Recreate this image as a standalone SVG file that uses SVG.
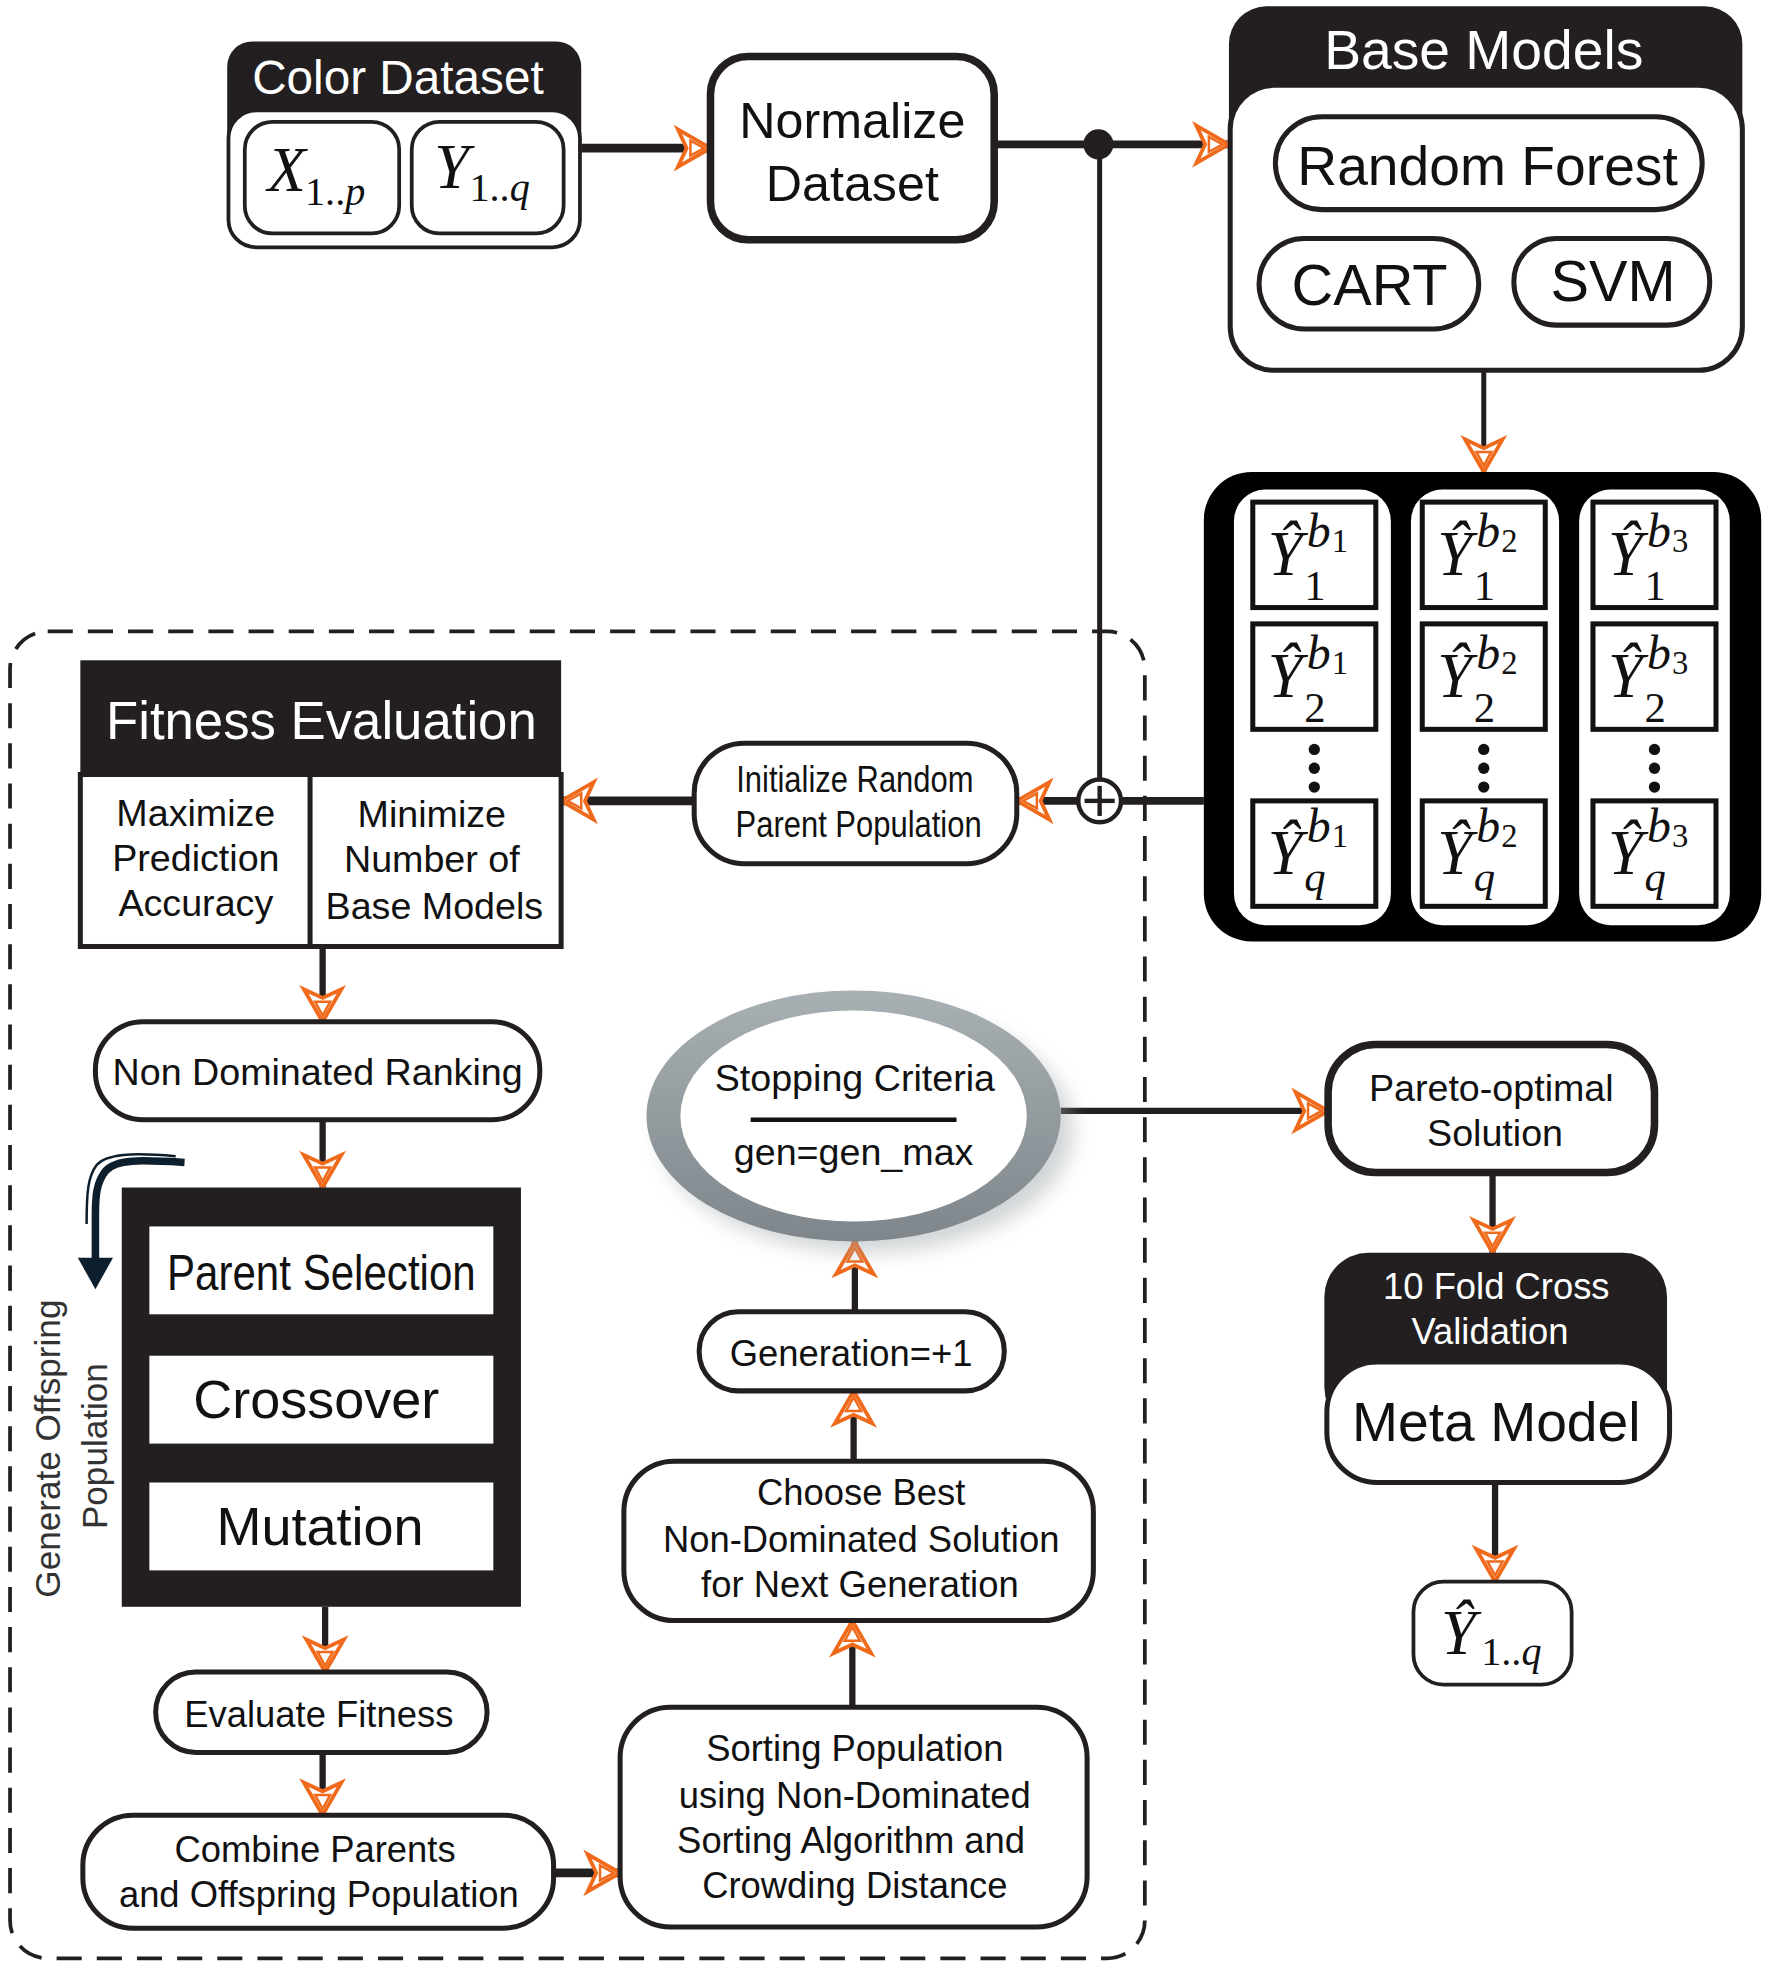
<svg xmlns="http://www.w3.org/2000/svg" width="1770" height="1973" viewBox="0 0 1770 1973">
<defs>
<style>
.t{font-family:"Liberation Sans",Arial,sans-serif;fill:#111;text-anchor:middle}
.w{fill:#fff}
.m{font-family:"Liberation Serif","Times New Roman",serif;fill:#111}
.i{font-style:italic}
.box{fill:#fff;stroke:#231f20;stroke-width:4}
.cell{fill:#fff;stroke:#111;stroke-width:4}
.ln{stroke:#231f20;fill:none}
</style>
<marker id="ah" markerUnits="userSpaceOnUse" markerWidth="34" markerHeight="40" viewBox="-30 -20 34 40" refX="0" refY="0" orient="auto" overflow="visible">
<path d="M0,0 L-26,-15 L-19,0 L-26,15 Z" fill="#fff" stroke="#f06a1c" stroke-width="3" stroke-linejoin="miter"/>
<path d="M-5,0 L-16,-6 L-16,6 Z" fill="#fff" stroke="#f06a1c" stroke-width="2"/>
</marker>
<linearGradient id="ring" x1="0" y1="0" x2="0" y2="1">
<stop offset="0" stop-color="#a9b0b4"/>
<stop offset="1" stop-color="#7e868b"/>
</linearGradient>
<filter id="sh" x="-30%" y="-30%" width="160%" height="160%">
<feGaussianBlur stdDeviation="8"/>
</filter>
</defs>
<rect width="1770" height="1973" fill="#fff"/>
<g transform="scale(1.2553)">

<!-- dashed region -->
<rect x="8" y="503" width="904" height="1057" rx="30" fill="none" stroke="#231f20" stroke-width="3" stroke-dasharray="20 12"/>

<!-- connectors -->
<g id="connectors" class="ln">
<line x1="463" y1="118" x2="566" y2="118" stroke-width="7" marker-end="url(#ah)"/>
<line x1="792" y1="115" x2="979" y2="115" stroke-width="6" marker-end="url(#ah)"/>
<circle cx="875" cy="115" r="12" fill="#231f20" stroke="none"/>
<line x1="876" y1="115" x2="876" y2="622" stroke-width="4"/>
<line x1="1182" y1="295" x2="1182" y2="376" stroke-width="4" marker-end="url(#ah)"/>
<line x1="959" y1="638" x2="894" y2="638" stroke-width="6"/>
<line x1="858" y1="638" x2="810" y2="638" stroke-width="6" marker-end="url(#ah)"/>
<line x1="553" y1="638" x2="447" y2="638" stroke-width="7" marker-end="url(#ah)"/>
<line x1="257" y1="754" x2="257" y2="814" stroke-width="5" marker-end="url(#ah)"/>
<line x1="257" y1="892" x2="257" y2="946" stroke-width="5" marker-end="url(#ah)"/>
<line x1="259" y1="1280" x2="259" y2="1332" stroke-width="5" marker-end="url(#ah)"/>
<line x1="257" y1="1396" x2="257" y2="1446" stroke-width="5" marker-end="url(#ah)"/>
<line x1="441" y1="1492" x2="494" y2="1492" stroke-width="7" marker-end="url(#ah)"/>
<line x1="679" y1="1360" x2="679" y2="1291" stroke-width="5" marker-end="url(#ah)"/>
<line x1="680" y1="1164" x2="680" y2="1108" stroke-width="5" marker-end="url(#ah)"/>
<line x1="681" y1="1045" x2="681" y2="989" stroke-width="5" marker-end="url(#ah)"/>
<line x1="845" y1="885" x2="1058" y2="885" stroke-width="5" marker-end="url(#ah)"/>
<line x1="1189" y1="934" x2="1189" y2="998" stroke-width="5" marker-end="url(#ah)"/>
<line x1="1191" y1="1181" x2="1191" y2="1260" stroke-width="5" marker-end="url(#ah)"/>
</g>

<!-- plus junction -->
<g id="sum">
<circle cx="876" cy="638" r="17" fill="#fff" stroke="#231f20" stroke-width="3.5"/>
<line x1="864" y1="638" x2="888" y2="638" stroke="#231f20" stroke-width="3.5"/>
<line x1="876" y1="626" x2="876" y2="650" stroke="#231f20" stroke-width="3.5"/>
</g>

<!-- Color Dataset -->
<g id="color-dataset">
<rect x="181" y="33" width="282" height="110" rx="20" fill="#231f20"/>
<rect x="182" y="88" width="280" height="109" rx="22" fill="#fff" stroke="#231f20" stroke-width="3"/>
<text class="t w" x="317" y="75" font-size="38">Color Dataset</text>
<rect x="195" y="97" width="123" height="89" rx="22" fill="#fff" stroke="#231f20" stroke-width="3"/>
<rect x="328" y="97" width="121" height="89" rx="22" fill="#fff" stroke="#231f20" stroke-width="3"/>
<text class="m"><tspan class="i" x="213" y="152" font-size="50">X</tspan><tspan x="243" y="163" font-size="32">1..</tspan><tspan class="i" font-size="32">p</tspan></text>
<text class="m"><tspan class="i" x="346" y="150" font-size="50">Y</tspan><tspan x="374" y="160" font-size="32">1..</tspan><tspan class="i" font-size="32">q</tspan></text>
</g>

<!-- Normalize -->
<g id="normalize">
<rect x="566" y="45" width="226" height="146" rx="30" fill="#fff" stroke="#231f20" stroke-width="6"/>
<text class="t" x="679" y="110" font-size="40">Normalize</text>
<text class="t" x="679" y="160" font-size="40">Dataset</text>
</g>

<!-- Base Models -->
<g id="base-models">
<rect x="979" y="5" width="409" height="140" rx="30" fill="#231f20"/>
<rect x="980" y="68" width="408" height="227" rx="35" class="box"/>
<text class="t w" x="1182" y="55" font-size="44">Base Models</text>
<rect x="1016" y="93" width="340" height="74" rx="37" class="box"/>
<text class="t" x="1185" y="147" font-size="44">Random Forest</text>
<rect x="1003" y="190" width="175" height="72" rx="36" class="box"/>
<text class="t" x="1091" y="243" font-size="46">CART</text>
<rect x="1206" y="190" width="156" height="69" rx="34" class="box"/>
<text class="t" x="1285" y="240" font-size="46">SVM</text>
</g>

<!-- Predictions -->
<g id="predictions">
<rect x="959" y="376" width="444" height="374" rx="38" fill="#000"/>
<rect x="983" y="390" width="125" height="347" rx="25" fill="#fff"/>
<rect x="1124" y="390" width="118" height="347" rx="25" fill="#fff"/>
<rect x="1258" y="390" width="120" height="347" rx="25" fill="#fff"/>

<rect class="cell" x="998" y="400" width="98" height="84"/>
<rect class="cell" x="998" y="497" width="98" height="84"/>
<rect class="cell" x="998" y="638" width="98" height="84"/>
<rect class="cell" x="1133" y="400" width="98" height="84"/>
<rect class="cell" x="1133" y="497" width="98" height="84"/>
<rect class="cell" x="1133" y="638" width="98" height="84"/>
<rect class="cell" x="1269" y="400" width="98" height="84"/>
<rect class="cell" x="1269" y="497" width="98" height="84"/>
<rect class="cell" x="1269" y="638" width="98" height="84"/>

<g fill="#111">
<circle cx="1047" cy="597" r="4.5"/><circle cx="1047" cy="612" r="4.5"/><circle cx="1047" cy="627" r="4.5"/>
<circle cx="1182" cy="597" r="4.5"/><circle cx="1182" cy="612" r="4.5"/><circle cx="1182" cy="627" r="4.5"/>
<circle cx="1318" cy="597" r="4.5"/><circle cx="1318" cy="612" r="4.5"/><circle cx="1318" cy="627" r="4.5"/>
</g>

<!-- col1 -->
<text class="m"><tspan class="i" x="1010" y="458" font-size="50">Ŷ</tspan><tspan class="i" x="1041" y="436" font-size="38">b</tspan><tspan x="1061" y="440" font-size="26">1</tspan><tspan x="1039" y="478" font-size="34">1</tspan></text>
<text class="m"><tspan class="i" x="1010" y="555" font-size="50">Ŷ</tspan><tspan class="i" x="1041" y="533" font-size="38">b</tspan><tspan x="1061" y="537" font-size="26">1</tspan><tspan x="1039" y="575" font-size="34">2</tspan></text>
<text class="m"><tspan class="i" x="1010" y="696" font-size="50">Ŷ</tspan><tspan class="i" x="1041" y="671" font-size="38">b</tspan><tspan x="1061" y="675" font-size="26">1</tspan><tspan class="i" x="1039" y="710" font-size="34">q</tspan></text>

<!-- col2 -->
<text class="m"><tspan class="i" x="1145" y="458" font-size="50">Ŷ</tspan><tspan class="i" x="1176" y="436" font-size="38">b</tspan><tspan x="1196" y="440" font-size="26">2</tspan><tspan x="1174" y="478" font-size="34">1</tspan></text>
<text class="m"><tspan class="i" x="1145" y="555" font-size="50">Ŷ</tspan><tspan class="i" x="1176" y="533" font-size="38">b</tspan><tspan x="1196" y="537" font-size="26">2</tspan><tspan x="1174" y="575" font-size="34">2</tspan></text>
<text class="m"><tspan class="i" x="1145" y="696" font-size="50">Ŷ</tspan><tspan class="i" x="1176" y="671" font-size="38">b</tspan><tspan x="1196" y="675" font-size="26">2</tspan><tspan class="i" x="1174" y="710" font-size="34">q</tspan></text>

<!-- col3 -->
<text class="m"><tspan class="i" x="1281" y="458" font-size="50">Ŷ</tspan><tspan class="i" x="1312" y="436" font-size="38">b</tspan><tspan x="1332" y="440" font-size="26">3</tspan><tspan x="1310" y="478" font-size="34">1</tspan></text>
<text class="m"><tspan class="i" x="1281" y="555" font-size="50">Ŷ</tspan><tspan class="i" x="1312" y="533" font-size="38">b</tspan><tspan x="1332" y="537" font-size="26">3</tspan><tspan x="1310" y="575" font-size="34">2</tspan></text>
<text class="m"><tspan class="i" x="1281" y="696" font-size="50">Ŷ</tspan><tspan class="i" x="1312" y="671" font-size="38">b</tspan><tspan x="1332" y="675" font-size="26">3</tspan><tspan class="i" x="1310" y="710" font-size="34">q</tspan></text>
</g>

<!-- Initialize -->
<g id="initialize">
<rect x="553" y="592" width="257" height="96" rx="40" class="box"/>
<text class="t" x="681" y="631" font-size="29" textLength="189" lengthAdjust="spacingAndGlyphs">Initialize Random</text>
<text class="t" x="684" y="667" font-size="29" textLength="196" lengthAdjust="spacingAndGlyphs">Parent Population</text>
</g>

<!-- Fitness Evaluation -->
<g id="fitness">
<rect x="64" y="526" width="383" height="92" fill="#231f20"/>
<rect x="64" y="617" width="383" height="137" fill="#fff" stroke="#231f20" stroke-width="4"/>
<line x1="247" y1="617" x2="247" y2="754" stroke="#231f20" stroke-width="4"/>
<text class="t w" x="256" y="589" font-size="42">Fitness Evaluation</text>
<text class="t" x="156" y="658" font-size="30">Maximize</text>
<text class="t" x="156" y="694" font-size="30">Prediction</text>
<text class="t" x="156" y="730" font-size="30">Accuracy</text>
<text class="t" x="344" y="659" font-size="30">Minimize</text>
<text class="t" x="344" y="695" font-size="30">Number of</text>
<text class="t" x="346" y="732" font-size="30">Base Models</text>
</g>

<!-- Non Dominated Ranking -->
<g id="ndr">
<rect x="76" y="814" width="354" height="78" rx="38" class="box"/>
<text class="t" x="253" y="864" font-size="30">Non Dominated Ranking</text>
</g>

<!-- GA operators -->
<g id="ga">
<rect x="97" y="946" width="318" height="334" fill="#231f20"/>
<rect x="119" y="977" width="274" height="70" fill="#fff"/>
<rect x="119" y="1080" width="274" height="70" fill="#fff"/>
<rect x="119" y="1181" width="274" height="70" fill="#fff"/>
<text class="t" x="256" y="1028" font-size="40" textLength="246" lengthAdjust="spacingAndGlyphs">Parent Selection</text>
<text class="t" x="252" y="1130" font-size="43">Crossover</text>
<text class="t" x="255" y="1231" font-size="43">Mutation</text>
</g>

<!-- Generate Offspring label -->
<g id="offspring-label">
<path d="M147,926 C112,924 92,923 84,933 C77,942 76,952 76,968 L76,1004" fill="none" stroke="#0d1f2d" stroke-width="6"/>
<path d="M140,921 C105,918 85,919 77,928 C70,937 69,950 69,975" fill="none" stroke="#0d1f2d" stroke-width="2"/>
<polygon points="62,1002 90,1002 76,1027" fill="#0d1f2d"/>
<text class="t" font-size="28" transform="translate(48,1154) rotate(-90)" style="fill:#333">Generate Offspring</text>
<text class="t" font-size="28" transform="translate(85,1152) rotate(-90)" style="fill:#333">Population</text>
</g>

<!-- Evaluate Fitness -->
<g id="evaluate">
<rect x="124" y="1332" width="264" height="64" rx="32" class="box"/>
<text class="t" x="254" y="1376" font-size="29">Evaluate Fitness</text>
</g>

<!-- Combine -->
<g id="combine">
<rect x="66" y="1446" width="375" height="90" rx="40" class="box"/>
<text class="t" x="251" y="1483" font-size="29">Combine Parents</text>
<text class="t" x="254" y="1519" font-size="29">and Offspring Population</text>
</g>

<!-- Sorting -->
<g id="sorting">
<rect x="494" y="1360" width="372" height="175" rx="40" class="box"/>
<text class="t" x="681" y="1403" font-size="29">Sorting Population</text>
<text class="t" x="681" y="1440" font-size="29">using Non-Dominated</text>
<text class="t" x="678" y="1476" font-size="29">Sorting Algorithm and</text>
<text class="t" x="681" y="1512" font-size="29">Crowding Distance</text>
</g>

<!-- Choose Best -->
<g id="choose">
<rect x="497" y="1164" width="374" height="127" rx="40" class="box"/>
<text class="t" x="686" y="1199" font-size="29">Choose Best</text>
<text class="t" x="686" y="1236" font-size="29">Non-Dominated Solution</text>
<text class="t" x="685" y="1272" font-size="29">for Next Generation</text>
</g>

<!-- Generation -->
<g id="generation">
<rect x="557" y="1045" width="243" height="63" rx="31" class="box"/>
<text class="t" x="678" y="1088" font-size="29">Generation=+1</text>
</g>

<!-- Stopping Criteria -->
<g id="stopping">
<ellipse cx="690" cy="900" rx="165" ry="98" fill="#9aa0a4" opacity="0.45" filter="url(#sh)"/>
<ellipse cx="680" cy="889" rx="165" ry="100" fill="url(#ring)"/>
<ellipse cx="680" cy="889" rx="138" ry="84" fill="#fff"/>
<text class="t" x="681" y="869" font-size="30">Stopping Criteria</text>
<line x1="598" y1="892" x2="762" y2="892" stroke="#111" stroke-width="3.5"/>
<text class="t" x="680" y="928" font-size="30">gen=gen_max</text>
</g>

<!-- Pareto -->
<g id="pareto">
<rect x="1058" y="832" width="260" height="102" rx="38" fill="#fff" stroke="#231f20" stroke-width="6"/>
<text class="t" x="1188" y="877" font-size="30">Pareto-optimal</text>
<text class="t" x="1191" y="913" font-size="30">Solution</text>
</g>

<!-- Meta Model -->
<g id="meta">
<rect x="1055" y="998" width="273" height="142" rx="35" fill="#231f20"/>
<rect x="1057" y="1085" width="273" height="96" rx="40" class="box"/>
<text class="t w" x="1192" y="1035" font-size="29">10 Fold Cross</text>
<text class="t w" x="1187" y="1071" font-size="29">Validation</text>
<text class="t" x="1192" y="1148" font-size="44">Meta Model</text>
</g>

<!-- Output -->
<g id="output">
<rect x="1126" y="1260" width="126" height="82" rx="24" fill="#fff" stroke="#231f20" stroke-width="3"/>
<text class="m"><tspan class="i" x="1148" y="1318" font-size="50">Ŷ</tspan><tspan x="1180" y="1326" font-size="32">1..</tspan><tspan class="i" font-size="32">q</tspan></text>
</g>

</g>
</svg>
